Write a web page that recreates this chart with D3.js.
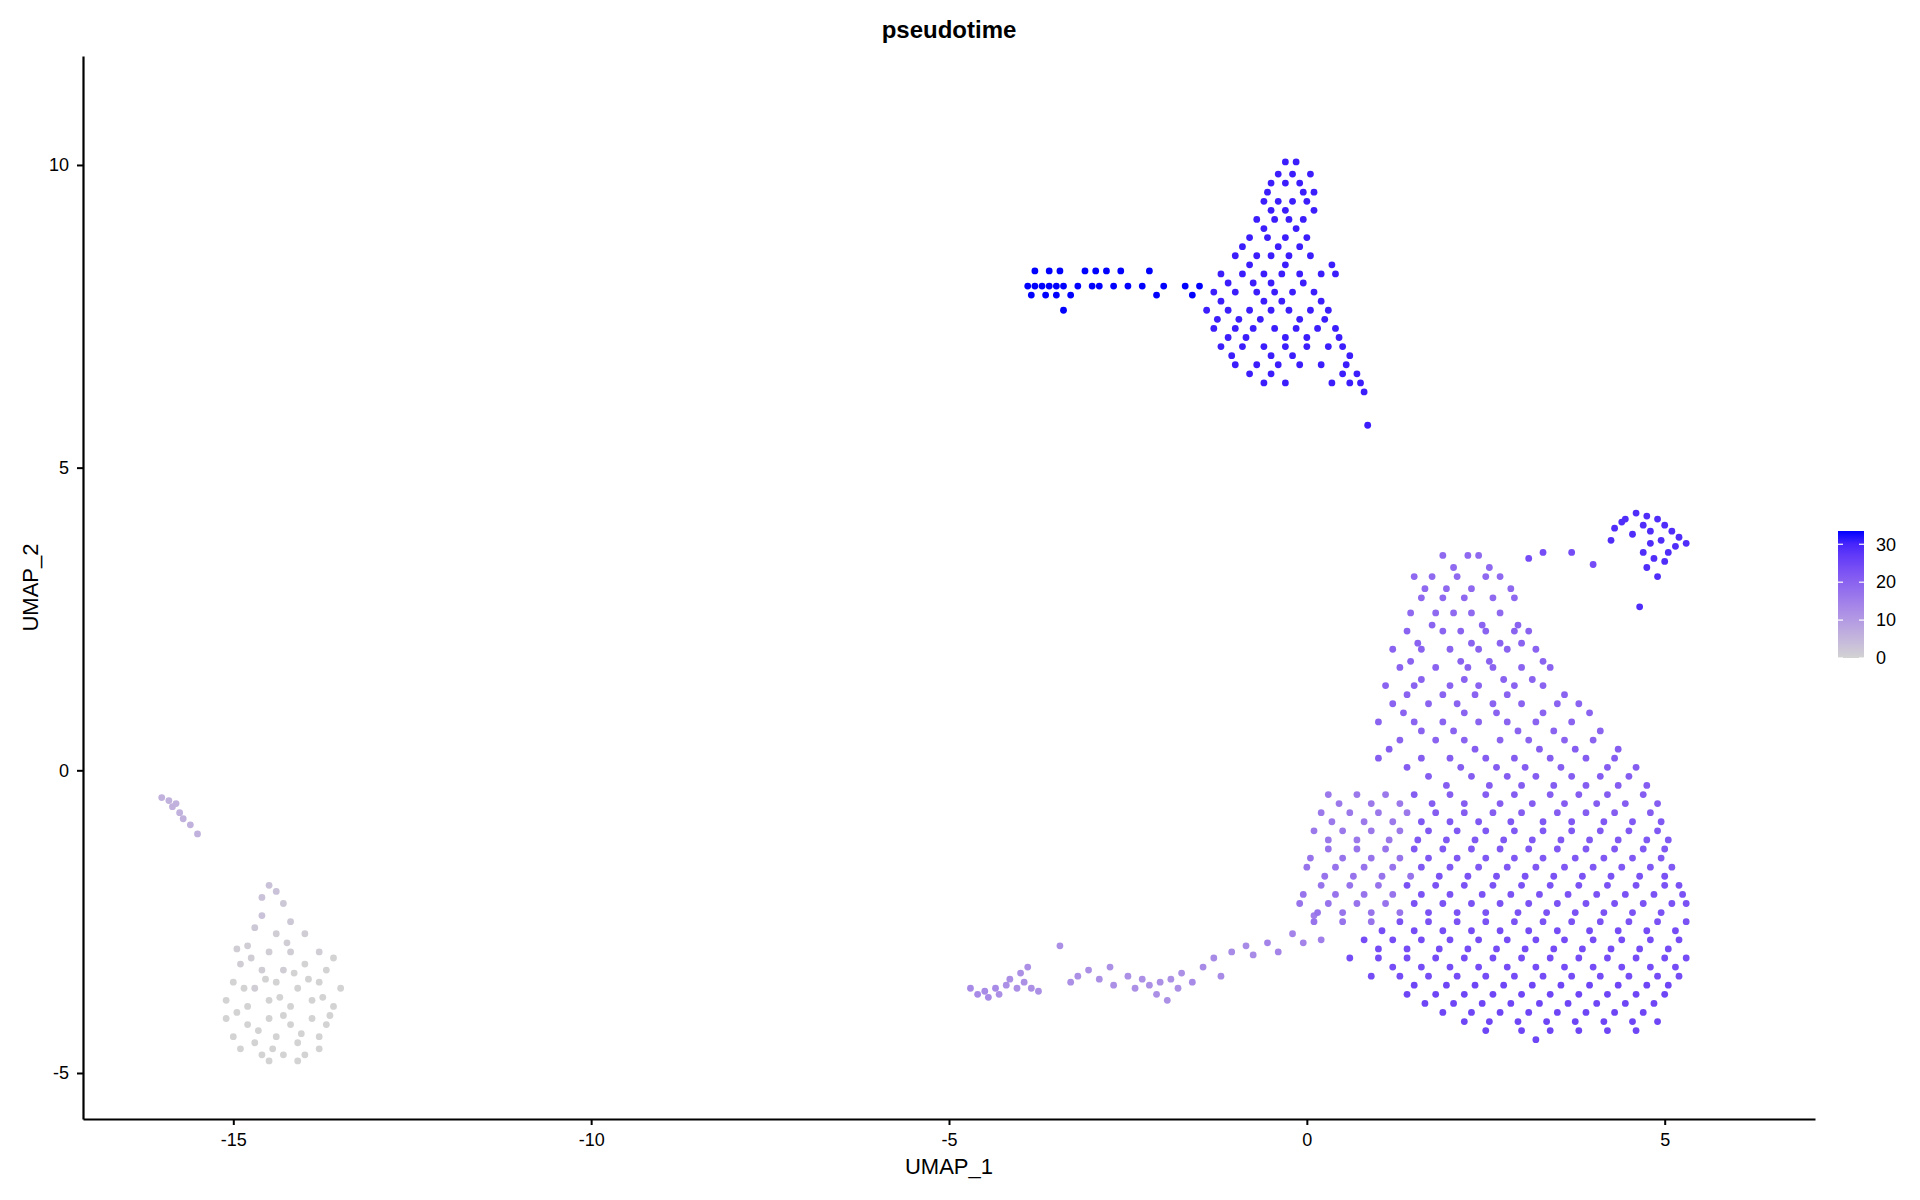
<!DOCTYPE html>
<html><head><meta charset="utf-8">
<script src="https://cdn.jsdelivr.net/npm/d3@7"></script>
<style>body{margin:0;background:#fff}</style>
</head><body>
<svg id="chart" width="1920" height="1200"></svg>
<script>
// [UMAP_1, UMAP_2, pseudotime]
const greyCluster = [
  [-14.5,-1.9,3],[-14.4,-2.0,3],[-14.6,-2.1,3],[-14.3,-2.2,2],[-14.6,-2.4,3],[-14.2,-2.5,2],[-14.7,-2.6,2],[-14.4,-2.7,1],
  [-14.0,-2.7,1],[-14.8,-2.9,1],[-14.5,-3.0,1],[-14.2,-3.0,1],[-13.8,-3.0,1],[-14.9,-3.2,1],[-14.6,-3.3,1],[-14.3,-3.3,1],
  [-14.0,-3.2,0],[-13.7,-3.3,0],[-15.0,-3.5,0],[-14.7,-3.6,1],[-14.4,-3.5,0],[-14.1,-3.6,0],[-13.8,-3.5,0],[-13.5,-3.6,0],
  [-15.1,-3.8,0],[-14.8,-3.9,0],[-14.5,-3.8,0],[-14.2,-3.9,0],[-13.9,-3.8,0],[-13.6,-3.9,0],[-15.1,-4.1,0],[-14.8,-4.2,0],
  [-14.5,-4.1,0],[-14.2,-4.2,0],[-13.9,-4.1,0],[-13.7,-4.2,0],[-15.0,-4.4,0],[-14.7,-4.5,0],[-14.4,-4.4,0],[-14.1,-4.5,0],
  [-13.8,-4.4,0],[-14.9,-4.6,0],[-14.6,-4.7,0],[-14.3,-4.7,0],[-14.0,-4.7,0],[-13.8,-4.6,0],[-14.5,-4.8,0],[-14.1,-4.8,0],
  [-14.95,-2.95,1],[-13.6,-3.1,0],[-14.35,-3.75,0],[-14.65,-4.3,0],[-14.05,-4.35,0],[-14.85,-3.6,0],[-13.75,-3.75,0],[-14.25,-2.85,1],
  [-14.55,-3.45,0],[-13.95,-3.45,0],[-14.3,-4.05,0],[-14.95,-4.0,0],[-13.65,-4.05,0],[-14.45,-4.6,0],[-14.15,-3.35,0],[-14.75,-3.1,1],
  [-16.0,-0.45,6],[-15.9,-0.5,6],[-15.85,-0.6,6],[-15.8,-0.55,6],[-15.75,-0.7,6],[-15.7,-0.8,6],[-15.6,-0.9,6],[-15.5,-1.05,6]
];

const bridge = [
  [-4.7,-3.6,13],[-4.6,-3.7,13],[-4.5,-3.65,13],[-4.45,-3.75,13],[-4.35,-3.6,13],[-4.3,-3.7,12],[-4.2,-3.55,12],[-4.15,-3.45,12],
  [-4.05,-3.6,12],[-4.0,-3.35,12],[-3.95,-3.5,12],[-3.9,-3.25,12],[-3.85,-3.6,12],[-3.75,-3.65,12],[-3.45,-2.9,12],[-3.3,-3.5,12],
  [-3.2,-3.4,12],[-3.05,-3.3,12],[-2.9,-3.45,12],[-2.75,-3.25,12],[-2.7,-3.55,12],[-2.5,-3.4,12],[-2.4,-3.6,12],[-2.3,-3.45,12],
  [-2.2,-3.55,12],[-2.1,-3.7,12],[-2.05,-3.5,12],[-1.95,-3.8,12],[-1.9,-3.45,12],[-1.8,-3.6,12],[-1.75,-3.35,12],[-1.6,-3.5,13],
  [-1.45,-3.25,13],[-1.3,-3.1,13],[-1.2,-3.4,13],[-1.05,-3.0,13],[-0.85,-2.9,13],[-0.75,-3.05,13],[-0.55,-2.85,14],[-0.4,-3.0,14],
  [-0.2,-2.7,14],[-0.05,-2.85,14],[0.1,-2.4,15],[0.2,-2.8,15]
];

// big cluster rows: [UMAP_2, pseudotime, UMAP_1 values]
const bigRows = [
  [3.55,19,[1.9,2.25,2.4]],
  [3.35,19,[2.05,2.55]],
  [3.2,19,[1.5,1.75,2.1,2.5,2.7]],
  [3.0,19,[1.65,1.95,2.3,2.85]],
  [2.85,19,[1.6,1.9,2.2,2.6,2.9]],
  [2.6,19,[1.45,1.8,2.05,2.3,2.7]],
  [2.4,20,[1.75,2.45,2.95]],
  [2.3,20,[1.4,1.9,2.15,2.5,2.9,3.1]],
  [2.1,20,[1.55,2.3,2.7,3.0]],
  [2.0,20,[1.2,1.6,2.0,2.4,2.8,3.2]],
  [1.8,20,[1.45,2.15,2.55,3.3]],
  [1.7,20,[1.3,1.8,2.25,2.6,3.0,3.4]],
  [1.5,20,[1.6,2.2,2.75,3.15]],
  [1.4,20,[1.1,1.5,2.0,2.4,2.9,3.3]],
  [1.25,20,[1.4,1.9,2.35,2.8,3.6]],
  [1.1,20,[1.2,1.7,2.1,2.6,3.0,3.5,3.8]],
  [0.95,20,[1.35,2.2,2.65,3.3,3.95]],
  [0.8,20,[1.0,1.5,1.9,2.4,2.8,3.2,3.7]],
  [0.65,20,[1.6,2.05,2.95,3.45,4.1]],
  [0.5,20,[1.3,1.8,2.2,2.7,3.1,3.6,4.0]],
  [0.35,21,[1.15,2.35,3.25,3.75,4.35]],
  [0.2,21,[1.0,1.6,2.0,2.5,2.9,3.4,3.9,4.3]],
  [0.05,21,[1.4,2.15,2.65,3.05,3.55,4.2,4.6]],
  [-0.1,21,[1.7,2.3,2.8,3.2,3.7,4.1,4.5]],
  [-0.25,21,[1.95,2.55,3.0,3.45,3.9,4.35,4.75]],
  [-0.4,21,[1.5,2.0,2.5,2.9,3.4,3.8,4.2,4.7]],
  [-0.55,21,[1.75,2.2,2.7,3.15,3.6,4.05,4.45,4.9]],
  [-0.7,21,[1.8,2.2,2.6,3.0,3.5,3.9,4.3,4.8]],
  [-0.85,22,[1.6,2.0,2.4,2.85,3.3,3.7,4.15,4.55,4.95]],
  [-1.0,22,[1.7,2.1,2.5,2.9,3.3,3.7,4.1,4.5,4.9]],
  [-1.15,22,[1.55,1.95,2.35,2.75,3.15,3.55,3.95,4.35,4.75,5.05]],
  [-1.3,22,[1.5,1.9,2.3,2.7,3.1,3.5,3.9,4.3,4.7,5.0]],
  [-1.45,22,[1.7,2.1,2.5,2.9,3.3,3.75,4.15,4.55,4.95]],
  [-1.6,22,[1.6,2.0,2.4,2.8,3.2,3.6,4.0,4.4,4.8,5.1]],
  [-1.75,23,[1.85,2.25,2.65,3.05,3.45,3.85,4.25,4.65,5.0]],
  [-1.9,23,[1.4,1.8,2.2,2.6,3.0,3.4,3.8,4.2,4.6,5.0,5.2]],
  [-2.05,23,[1.6,2.0,2.45,2.85,3.25,3.65,4.05,4.45,4.85,5.25]],
  [-2.2,23,[1.5,1.9,2.3,2.7,3.1,3.5,3.9,4.3,4.7,5.1,5.3]],
  [-2.35,23,[1.7,2.1,2.5,2.95,3.35,3.75,4.15,4.55,4.95]],
  [-2.5,23,[1.3,1.7,2.1,2.5,2.9,3.3,3.7,4.1,4.5,4.9,5.3]],
  [-2.65,24,[1.05,1.5,1.9,2.3,2.7,3.1,3.5,3.95,4.35,4.75,5.15]],
  [-2.8,24,[0.8,1.2,1.6,2.0,2.4,2.8,3.2,3.6,4.0,4.4,4.8,5.2]],
  [-2.95,24,[1.0,1.4,1.85,2.25,2.65,3.05,3.45,3.85,4.25,4.65,5.05]],
  [-3.1,24,[0.6,1.0,1.4,1.8,2.2,2.6,3.0,3.4,3.8,4.2,4.6,5.0,5.3]],
  [-3.25,24,[1.2,1.6,2.0,2.4,2.8,3.2,3.6,4.0,4.4,4.8,5.15]],
  [-3.4,24,[0.9,1.3,1.7,2.1,2.5,2.9,3.3,3.7,4.1,4.5,4.9,5.2]],
  [-3.55,25,[1.5,1.95,2.35,2.75,3.15,3.55,3.95,4.35,4.75,5.05]],
  [-3.7,25,[1.4,1.8,2.2,2.6,3.0,3.4,3.8,4.2,4.6,5.0]],
  [-3.85,25,[1.65,2.05,2.45,2.85,3.25,3.65,4.05,4.45,4.85]],
  [-4.0,25,[1.9,2.3,2.7,3.1,3.5,3.9,4.3,4.7]],
  [-4.15,25,[2.2,2.55,2.95,3.35,3.75,4.15,4.55,4.9]],
  [-4.3,25,[2.5,3.0,3.4,3.8,4.2,4.6]],
  [-4.45,25,[3.2]]
];

// lighter left lobe of the big cluster
const leftRows = [
  [-0.4,16,[0.3,0.7,1.1]],
  [-0.55,16,[0.45,0.9,1.3]],
  [-0.7,16,[0.2,0.6,1.0,1.4]],
  [-0.85,16,[0.35,0.8,1.2]],
  [-1.0,16,[0.1,0.5,0.9,1.3]],
  [-1.15,16,[0.3,0.7,1.15]],
  [-1.3,17,[0.3,0.7,1.1]],
  [-1.45,17,[0.05,0.5,0.9,1.3]],
  [-1.6,17,[0.0,0.4,0.8,1.2]],
  [-1.75,17,[0.25,0.65,1.05,1.45]],
  [-1.9,17,[0.2,0.6,1.0]],
  [-2.05,17,[-0.05,0.4,0.8,1.2]],
  [-2.2,17,[-0.1,0.3,0.7,1.1]],
  [-2.35,17,[0.15,0.5,0.9,1.3]],
  [-2.5,17,[0.1,0.5,0.9]]
];

const topRows = [
  [8.0,34,[-3.9,-3.8,-3.7,-3.6,-3.5,-3.4,-3.2,-3.0,-2.9,-2.7,-2.5,-2.3,-2.0,-1.7,-1.5]],
  [8.25,34,[-3.8,-3.6,-3.45,-3.1,-2.95,-2.8,-2.6,-2.2]],
  [7.85,34,[-3.85,-3.65,-3.5,-3.3,-2.1,-1.6]],
  [7.6,34,[-3.4]],
  [10.05,31,[-0.3,-0.15]],
  [9.85,31,[-0.4,-0.2,0.05]],
  [9.7,31,[-0.5,-0.3,-0.1]],
  [9.55,31,[-0.55,-0.05,0.1]],
  [9.4,31,[-0.6,-0.4,-0.2,0.0]],
  [9.25,31,[-0.5,-0.3,0.1]],
  [9.1,31,[-0.7,-0.45,-0.25,-0.05]],
  [8.95,31,[-0.6,-0.15]],
  [8.8,31,[-0.8,-0.55,-0.3,0.0]],
  [8.65,31,[-0.9,-0.4,-0.1]],
  [8.5,31,[-1.0,-0.7,-0.5,-0.25,0.05]],
  [8.35,31,[-0.8,-0.3,0.35]],
  [8.2,31,[-1.2,-0.9,-0.6,-0.35,-0.1,0.2,0.4]],
  [8.05,31,[-1.1,-0.75,-0.5,-0.05]],
  [7.9,31,[-1.3,-1.0,-0.7,-0.45,-0.2,0.1]],
  [7.75,31,[-1.2,-0.6,-0.35,0.2]],
  [7.6,31,[-1.4,-1.1,-0.8,-0.5,-0.25,0.05,0.3]],
  [7.45,31,[-1.25,-0.95,-0.65,-0.1,0.25]],
  [7.3,31,[-1.3,-1.0,-0.75,-0.45,-0.15,0.15,0.4]],
  [7.15,31,[-1.1,-0.85,-0.3,0.0,0.45]],
  [7.0,31,[-1.2,-0.9,-0.6,-0.3,0.0,0.3,0.5]],
  [6.85,31,[-1.05,-0.5,-0.2,0.6]],
  [6.7,31,[-1.0,-0.7,-0.4,-0.1,0.2,0.55]],
  [6.55,31,[-0.8,-0.5,0.5,0.7]],
  [6.4,31,[-0.6,-0.3,0.35,0.6,0.75]],
  [6.25,31,[0.8]],
  [5.7,31,[0.85]]
];

const smallCluster = [
  [4.25,3.8,29],[4.3,4.0,29],[4.45,4.15,29],[4.6,4.25,29],[4.75,4.2,29],[4.9,4.15,29],[5.0,4.05,29],[5.1,3.95,29],
  [5.2,3.85,29],[5.3,3.75,29],[4.8,3.95,29],[4.95,3.8,29],[4.7,3.6,29],[4.85,3.5,29],[5.0,3.45,29],[4.75,3.35,29],
  [4.9,3.2,29],[4.65,2.7,29],[4.55,3.9,29],[4.4,4.1,29],[5.15,3.7,29],[4.8,3.75,29],[5.05,3.6,29],[4.7,4.05,29],
  [3.3,3.6,24],[3.7,3.6,24],[4.0,3.4,24],[3.1,3.5,24]
];

const xTicks = [-15, -10, -5, 0, 5];
const yTicks = [-5, 0, 5, 10];
const legendTicks = [0, 10, 20, 30];

const rowsToPoints = rows => rows.flatMap(([y, t, xs]) => xs.map(x => [x, y, t]));
const points = greyCluster.concat(bridge, rowsToPoints(leftRows), rowsToPoints(bigRows),
  rowsToPoints(topRows), smallCluster);

const svg = d3.select("#chart");
const margin = { left: 83, right: 105, top: 56, bottom: 81 };
const W = 1920, H = 1200;

const x = d3.scaleLinear().domain([-17.1, 7.1]).range([margin.left, W - margin.right]);
const y = d3.scaleLinear().domain([-5.76, 11.8]).range([H - margin.bottom, margin.top]);
const color = d3.scaleLinear().domain([0, 33.5]).range(["lightgrey", "blue"])
  .interpolate(d3.interpolateLab).clamp(true);

const font = "Liberation Sans, Arial, sans-serif";

// points
svg.append("g").selectAll("circle")
  .data(points.slice().sort((a, b) => a[2] - b[2]))
  .enter().append("circle")
  .attr("cx", d => x(d[0]))
  .attr("cy", d => y(d[1]))
  .attr("r", 3.4)
  .attr("fill", d => color(d[2]));

// axes
const fmt = d => String(d);
const xAxis = svg.append("g")
  .attr("transform", `translate(0,${H - margin.bottom})`)
  .call(d3.axisBottom(x).tickValues(xTicks).tickFormat(fmt).tickSize(6).tickSizeOuter(0).tickPadding(8));
const yAxis = svg.append("g")
  .attr("transform", `translate(${margin.left},0)`)
  .call(d3.axisLeft(y).tickValues(yTicks).tickFormat(fmt).tickSize(6).tickSizeOuter(0).tickPadding(8));
[xAxis, yAxis].forEach(g => {
  g.select(".domain").attr("stroke", "#000").attr("stroke-width", 2.2);
  g.selectAll(".tick line").attr("stroke", "#000").attr("stroke-width", 2);
  g.selectAll("text").style("font-family", font).style("font-size", "18px").attr("fill", "#000");
});

// titles
svg.append("text").attr("x", (margin.left + W - margin.right) / 2).attr("y", 38)
  .attr("text-anchor", "middle").style("font-family", font).style("font-size", "24px")
  .style("font-weight", "bold").text("pseudotime");
svg.append("text").attr("x", (margin.left + W - margin.right) / 2).attr("y", 1174)
  .attr("text-anchor", "middle").style("font-family", font).style("font-size", "22px")
  .text("UMAP_1");
svg.append("text").attr("transform", `translate(38,${(margin.top + H - margin.bottom) / 2}) rotate(-90)`)
  .attr("text-anchor", "middle").style("font-family", font).style("font-size", "22px")
  .text("UMAP_2");

// legend colour bar
const lg = svg.append("g").attr("transform", "translate(1838,0)");
const ly = d3.scaleLinear().domain([0, 33.5]).range([658, 531]);
const defs = svg.append("defs");
const grad = defs.append("linearGradient").attr("id", "bar")
  .attr("x1", "0%").attr("y1", "100%").attr("x2", "0%").attr("y2", "0%");
d3.range(0, 11).forEach(i => {
  grad.append("stop").attr("offset", `${i * 10}%`).attr("stop-color", color(33.5 * i / 10));
});
lg.append("rect").attr("x", 0).attr("y", 531).attr("width", 26).attr("height", 127)
  .attr("fill", "url(#bar)");
legendTicks.forEach(t => {
  lg.append("line").attr("x1", 0).attr("x2", 5).attr("y1", ly(t)).attr("y2", ly(t))
    .attr("stroke", "#fff").attr("stroke-width", 1.2);
  lg.append("line").attr("x1", 21).attr("x2", 26).attr("y1", ly(t)).attr("y2", ly(t))
    .attr("stroke", "#fff").attr("stroke-width", 1.2);
  lg.append("text").attr("x", 38).attr("y", ly(t)).attr("dy", "0.35em")
    .style("font-family", font).style("font-size", "18px").text(t);
});
</script>
</body></html>
